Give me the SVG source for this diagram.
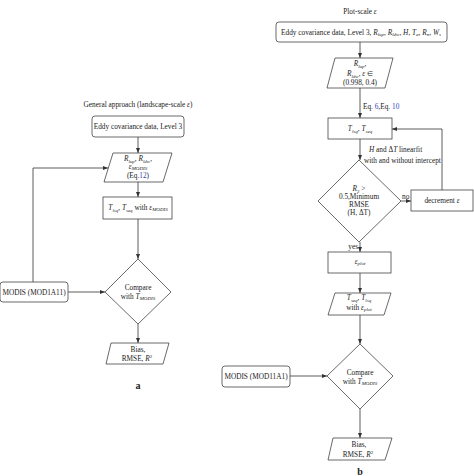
<svg xmlns="http://www.w3.org/2000/svg" width="474" height="476" viewBox="0 0 474 476">
<style>
text{font-family:"Liberation Serif","Times New Roman",serif;font-size:7.3px;fill:#222;text-anchor:middle}
.s{font-size:5px}
.i{font-style:italic}
.b{fill:#3344bb}
.shape{fill:#fff;stroke:#444;stroke-width:0.8}
.ln{fill:none;stroke:#333;stroke-width:0.8}
.st{text-anchor:start}
.en{text-anchor:end}
.lbl{font-weight:bold;font-size:10px}
</style>
<defs>
<marker id="ah" markerWidth="6" markerHeight="6" refX="5" refY="3" orient="auto" markerUnits="userSpaceOnUse">
<path d="M0,1 L5,3 L0,5 Z" fill="#333"/>
</marker>
</defs>
<rect width="474" height="476" fill="#fff"/>

<g id="connectors">
<line class="ln" x1="138" y1="137" x2="138" y2="153" marker-end="url(#ah)"/>
<line class="ln" x1="138" y1="182" x2="138" y2="197" marker-end="url(#ah)"/>
<line class="ln" x1="138" y1="219" x2="138" y2="259" marker-end="url(#ah)"/>
<polyline class="ln" points="33,282 33,168 108,168" marker-end="url(#ah)"/>
<line class="ln" x1="68" y1="292" x2="105" y2="292" marker-end="url(#ah)"/>
<line class="ln" x1="138" y1="324" x2="138" y2="343" marker-end="url(#ah)"/>

<line class="ln" x1="360" y1="42" x2="360" y2="58" marker-end="url(#ah)"/>
<line class="ln" x1="360" y1="88" x2="360" y2="118" marker-end="url(#ah)"/>
<line class="ln" x1="360" y1="139" x2="360" y2="160" marker-end="url(#ah)"/>
<line class="ln" x1="401" y1="201" x2="411" y2="201" marker-end="url(#ah)"/>
<polyline class="ln" points="442,190 442,129 392,129" marker-end="url(#ah)"/>
<line class="ln" x1="360" y1="242" x2="360" y2="252" marker-end="url(#ah)"/>
<line class="ln" x1="360" y1="273" x2="360" y2="293" marker-end="url(#ah)"/>
<line class="ln" x1="360" y1="315" x2="360" y2="344" marker-end="url(#ah)"/>
<line class="ln" x1="290" y1="376" x2="327" y2="376" marker-end="url(#ah)"/>
<line class="ln" x1="360" y1="409" x2="360" y2="438" marker-end="url(#ah)"/>

<text class="st" x="363" y="109">Eq. <tspan class="b">6</tspan>,Eq. <tspan class="b">10</tspan></text>
<text class="st" x="369" y="152"><tspan class="i">H</tspan> and Δ<tspan class="i">T</tspan> linearfit</text>
<text class="st" x="364" y="163">with and without intercept</text>
<text class="st" x="402" y="199">no</text>
<text class="en" x="358" y="249">yes</text>
</g>

<!-- Left panel -->
<text id="titleA" x="138" y="107">General approach (landscape-scale <tspan class="i">ε</tspan>)</text>

<g id="a_eddy">
<rect class="shape" x="92" y="116" width="92" height="21" rx="3"/>
<text x="138" y="129">Eddy covariance data, Level 3</text>
</g>
<g id="a_rl">
<polygon class="shape" points="113,153 172,153 163,182 104,182"/>
<text x="138" y="161"><tspan class="i">R</tspan><tspan class="s i" dy="1.5">lup</tspan><tspan dy="-1.5">, </tspan><tspan class="i">R</tspan><tspan class="s i" dy="1.5">ldw</tspan><tspan dy="-1.5">,</tspan></text>
<text x="138" y="169"><tspan class="i">ε</tspan><tspan class="s i" dy="1">MODIS</tspan></text>
<text x="138" y="178">(Eq.<tspan class="b">12</tspan>)</text>
</g>
<g id="a_t">
<rect class="shape" x="103" y="197" width="69" height="22"/>
<text x="138" y="210"><tspan class="i">T</tspan><tspan class="s i" dy="1.5">lsq</tspan><tspan dy="-1.5">, </tspan><tspan class="i">T</tspan><tspan class="s i" dy="1.5">seq</tspan><tspan dy="-1.5"> with </tspan><tspan class="i">ε</tspan><tspan class="s i" dy="1">MODIS</tspan></text>
</g>
<g id="a_cmp">
<polygon class="shape" points="138,259 171,292 138,324 105,292"/>
<text x="138" y="290">Compare</text>
<text x="138" y="299">with <tspan class="i">T</tspan><tspan class="s i" dy="1">MODIS</tspan></text>
</g>
<g id="a_modis">
<rect class="shape" x="0" y="282" width="68" height="20" rx="3"/>
<text x="34" y="294.5">MODIS (MOD1A11)</text>
</g>
<g id="a_bias">
<polygon class="shape" points="111,343 169,343 163,364 106,364"/>
<text x="138" y="352">Bias,</text>
<text x="137" y="361">RMSE, <tspan class="i">R</tspan><tspan class="s" dy="-3">2</tspan></text>
</g>
<text class="lbl" x="138" y="389">a</text>

<!-- Right panel -->
<text id="titleB" x="360" y="14">Plot-scale <tspan class="i">ε</tspan></text>
<g id="b_eddy">
<rect class="shape" x="276" y="22" width="171" height="20" rx="3"/>
<text x="361" y="34.5">Eddy covariance data, Level 3, <tspan class="i">R</tspan><tspan class="s i" dy="1.5">lup</tspan><tspan dy="-1.5">, </tspan><tspan class="i">R</tspan><tspan class="s i" dy="1.5">ldw</tspan><tspan dy="-1.5">, </tspan><tspan class="i">H</tspan>, <tspan class="i">T</tspan><tspan class="s i" dy="1.5">a</tspan><tspan dy="-1.5">, </tspan><tspan class="i">R</tspan><tspan class="s i" dy="1.5">n</tspan><tspan dy="-1.5">, </tspan><tspan class="i">W</tspan><tspan class="s i" dy="1.5">s</tspan></text>
</g>
<g id="b_rl">
<polygon class="shape" points="335,58 393,58 385,88 327,88"/>
<text x="360" y="66"><tspan class="i">R</tspan><tspan class="s i" dy="1.5">lup</tspan><tspan dy="-1.5">,</tspan></text>
<text x="360" y="76"><tspan class="i">R</tspan><tspan class="s i" dy="1.5">ldw</tspan><tspan dy="-1.5">, </tspan><tspan class="i">ε</tspan> ∈</text>
<text x="360" y="85">(0.998, 0.4)</text>
</g>
<g id="b_t">
<rect class="shape" x="328" y="118" width="64" height="21"/>
<text x="360" y="131"><tspan class="i">T</tspan><tspan class="s i" dy="1.5">lsq</tspan><tspan dy="-1.5">, </tspan><tspan class="i">T</tspan><tspan class="s i" dy="1.5">seq</tspan></text>
</g>
<g id="b_cond">
<polygon class="shape" points="359,160 401,201 359,242 318,201"/>
<text x="359" y="191"><tspan class="i">R</tspan><tspan class="s" dy="1.5">2</tspan><tspan dy="-1.5"> &gt;</tspan></text>
<text x="359" y="199">0.5,Minimum</text>
<text x="359" y="207">RMSE</text>
<text x="359" y="215">(H, ΔT)</text>
</g>
<g id="b_dec">
<rect class="shape" x="411" y="190" width="62" height="21"/>
<text x="442" y="203">decrement <tspan class="i">ε</tspan></text>
</g>
<g id="b_plot">
<rect class="shape" x="328" y="252" width="63" height="21"/>
<text x="360" y="264"><tspan class="i">ε</tspan><tspan class="s i" dy="1">plot</tspan></text>
</g>
<g id="b_t2">
<polygon class="shape" points="335,293 391,293 384,315 328,315"/>
<text x="359" y="300"><tspan class="i">T</tspan><tspan class="s i" dy="1.5">seq</tspan><tspan dy="-1.5">, </tspan><tspan class="i">T</tspan><tspan class="s i" dy="1.5">lsq</tspan></text>
<text x="359" y="310">with <tspan class="i">ε</tspan><tspan class="s i" dy="1">plot</tspan></text>
</g>
<g id="b_cmp">
<polygon class="shape" points="360,344 393,376 360,409 327,376"/>
<text x="360" y="375">Compare</text>
<text x="360" y="384">with <tspan class="i">T</tspan><tspan class="s i" dy="1">MODIS</tspan></text>
</g>
<g id="b_modis">
<rect class="shape" x="222" y="366" width="68" height="21" rx="3"/>
<text x="256" y="379">MODIS (MOD11A1)</text>
</g>
<g id="b_bias">
<polygon class="shape" points="333,438 392,438 385,460 328,460"/>
<text x="359" y="447">Bias,</text>
<text x="358" y="457">RMSE, <tspan class="i">R</tspan><tspan class="s" dy="-3">2</tspan></text>
</g>
<text class="lbl" x="360" y="475">b</text>
</svg>
